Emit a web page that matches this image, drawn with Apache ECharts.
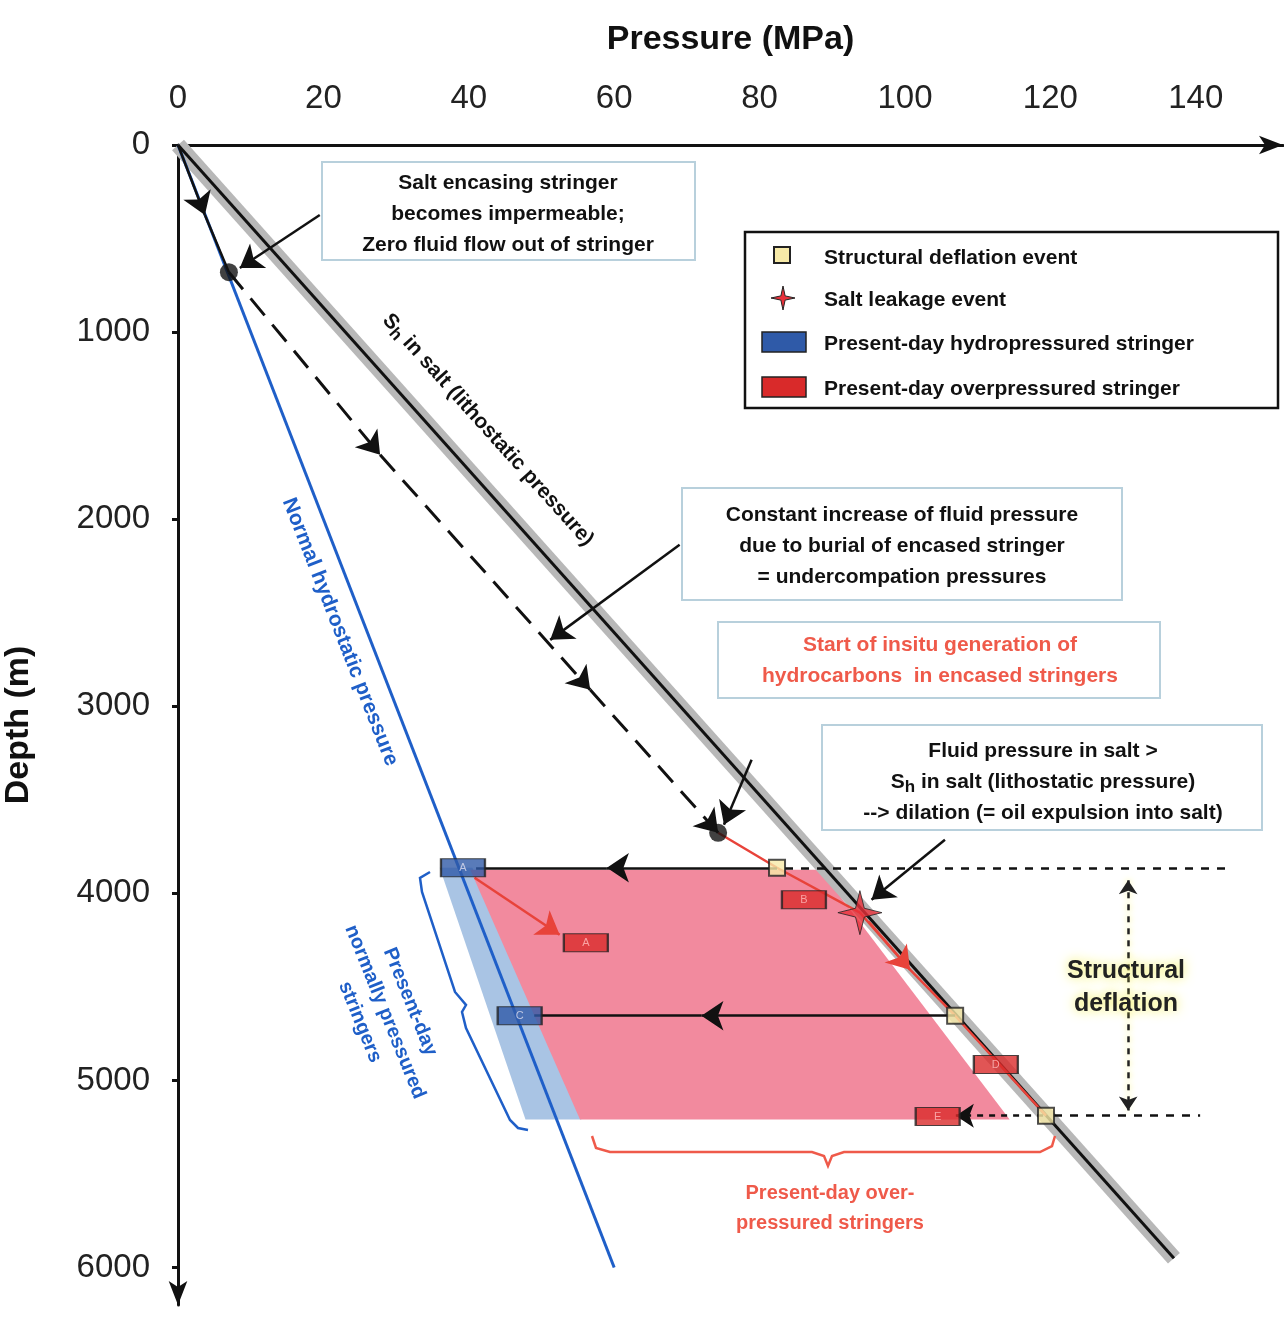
<!DOCTYPE html>
<html><head><meta charset="utf-8">
<script src="https://cdn.jsdelivr.net/npm/echarts@6/dist/echarts.min.js"></script>
<style>html,body{margin:0;padding:0;background:#fff}#c{width:1284px;height:1329px}</style>
</head><body><div id="c"></div>
<script>
const xTicks=[0,20,40,60,80,100,120,140];
const yTicks=[0,1000,2000,3000,4000,5000,6000];
const hydro=[[0,0],[60,6000]];
const litho=[[0,0],[137,5950]];
const pinkZone=[[40.2,3873],[88.3,3873],[114.4,5209],[55.3,5209]];
const blueZone=[[36,3863],[40.5,3863],[55.5,5209],[47.8,5209]];
const dashedPath=[[7,680],[27.8,1656],[56.7,2912],[74.3,3676]];
const redPath=[[74.3,3676],[82.4,3863],[93.8,4103],[100.7,4408],[106.9,4654],[119.4,5188]];
const dots=[[7,680],[74.3,3676]];
const deflationSquares=[[82.4,3863],[106.9,4654],[119.4,5188]];
const leakStar=[[93.8,4103]];
const blueStringers=[[39.2,3863,'A'],[47,4654,'C']];
const redStringers=[[86.1,4034,'B'],[56.1,4264,'A'],[112.5,4915,'D'],[104.5,5193,'E']];
const blackArrows=[[[19.5,374],[8.5,657]],[[69,2137],[51.2,2645]],[[78.9,3286],[75.1,3633]],[[105.5,3713],[95.4,4034]],
 [[0,0],[3.7,374]],[[82.4,3863],[59,3863]],[[106.9,4654],[72,4654]]];
const plainBlack=[[[59,3863],[41,3863]],[[72,4654],[49,4654]],[[3.7,374],[7,680]]];
const dashedArrows=[[[7,680],[27.8,1656]],[[27.8,1656],[56.7,2912]],[[56.7,2912],[74.3,3676]]];
const dottedLines=[[[83.5,3863],[144.7,3863]],[[120.5,5188],[140.6,5188]]];
const dottedArrow=[[[119,5188],[107,5188]]];
const redArrows=[[[40.8,3916],[52.5,4221]],[[95,4150],[100.7,4408]]];
const deflArrow=[[[130.7,3930],[130.7,5160]]];

const chart=echarts.init(document.getElementById('c'));
const F='Arial, "Liberation Sans", sans-serif';
function poly(data,color,z){return {type:'custom',z:z,silent:true,data:[0],renderItem:(p,api)=>({type:'polygon',shape:{points:data.map(d=>api.coord(d))},style:{fill:color}})};}
function boxes(data,fill,txt){return {type:'scatter',z:8,symbol:'rect',symbolSize:[44,18],data:data.map(d=>({value:[d[0],d[1]],name:d[2]})),
 itemStyle:{color:fill,borderColor:'#222',borderWidth:1.5},label:{show:true,formatter:'{b}',color:txt,fontSize:11,fontFamily:F}};}
function lineSeg(data,o){o.lineStyle.opacity=1;return Object.assign({type:'lines',coordinateSystem:'cartesian2d',z:6,data:data.map(c=>({coords:c}))},o);}
const box=(x,y,w,h,stroke)=>({type:'rect',shape:{x:x,y:y,width:w,height:h},style:{fill:'#fff',stroke:stroke||'#b8d0dc',lineWidth:2},z:1});
const txt=(x,y,t,o)=>({type:'text',x:x,y:y,z:20,style:Object.assign({text:t,font:'bold 21px '+F,fill:'#111',align:'center',verticalAlign:'top',lineHeight:31},o||{})});
function starPts(cx,cy,r,ri){const p=[];for(let i=0;i<8;i++){const a=i*Math.PI/4;const rr=i%2?ri:r;p.push([cx+rr*Math.cos(a),cy+rr*Math.sin(a)]);}return p;}
chart.setOption({
 animation:false,
 grid:{left:178,top:145,right:1,bottom:24,outerBoundsMode:'none',containLabel:false},
 xAxis:{type:'value',position:'top',min:0,max:152,interval:20,name:'Pressure (MPa)',nameLocation:'middle',nameGap:88,
  nameTextStyle:{fontSize:34,fontWeight:'bold',color:'#111',fontFamily:F},
  axisLine:{lineStyle:{color:'#111',width:3},symbol:['none','arrow'],symbolSize:[14,24]},
  axisTick:{show:false},splitLine:{show:false},
  axisLabel:{fontSize:33,color:'#222',margin:30,fontFamily:F,showMaxLabel:false,formatter:v=>xTicks.includes(v)?v:''}},
 yAxis:{type:'value',inverse:true,min:0,max:6200,interval:1000,name:'Depth (m)',nameLocation:'middle',nameGap:142,
  nameTextStyle:{fontSize:34,fontWeight:'bold',color:'#111',fontFamily:F},
  axisLine:{lineStyle:{color:'#111',width:3},symbol:['arrow','none'],symbolSize:[14,24]},
  axisTick:{show:true,length:6,inside:false,lineStyle:{width:3,color:'#111'}},splitLine:{show:false},
  axisLabel:{fontSize:33,color:'#222',margin:28,fontFamily:F,showMaxLabel:false,formatter:v=>yTicks.includes(v)?v:''}},
 series:[
  poly(blueZone,'#a9c4e4',2),
  poly(pinkZone,'#f28a9e',2),
  {type:'line',data:litho,z:3,symbol:'none',lineStyle:{color:'#b8b8b8',width:16}},
  {type:'line',data:hydro,z:4,symbol:'none',lineStyle:{color:'#1f5fc8',width:3}},
  {type:'line',data:litho,z:5,symbol:'none',lineStyle:{color:'#111',width:3}},
  {type:'line',data:redPath,z:5,symbol:'none',lineStyle:{color:'#e8433a',width:2.5}},
  lineSeg(dashedArrows,{symbol:['none','arrow'],symbolSize:22,lineStyle:{color:'#111',width:3,type:[22,12]}}),
  lineSeg(blackArrows,{symbol:['none','arrow'],symbolSize:22,lineStyle:{color:'#111',width:2.5}}),
  lineSeg(plainBlack,{symbol:'none',lineStyle:{color:'#111',width:2.5}}),
  lineSeg(dottedLines,{symbol:'none',lineStyle:{color:'#111',width:2.5,type:[8,8]}}),
  lineSeg(dottedArrow,{symbol:['none','arrow'],symbolSize:18,lineStyle:{color:'#111',width:2.5,type:[6,6]}}),
  lineSeg(redArrows,{symbol:['none','arrow'],symbolSize:22,lineStyle:{color:'#e8433a',width:2.5}}),
  lineSeg(deflArrow,{symbol:['arrow','arrow'],symbolSize:14,lineStyle:{color:'#222',width:2.5,type:[6,6],shadowColor:'#f5f06a',shadowBlur:6}}),
  {type:'scatter',z:9,data:dots,symbol:'circle',symbolSize:18,itemStyle:{color:'#111'}},
  {type:'scatter',z:9,data:deflationSquares,symbol:'rect',symbolSize:16,itemStyle:{color:'#f7eaa8',borderColor:'#222',borderWidth:2}},
  {type:'scatter',z:9,data:leakStar,symbol:'path://M0,-10 L2,-2 L10,0 L2,2 L0,10 L-2,2 L-10,0 L-2,-2 Z',symbolSize:44,itemStyle:{color:'#e8303a',borderColor:'#222',borderWidth:1}},
  boxes(blueStringers,'#2f5aa8','#dde'),
  boxes(redStringers,'#d92a2a','#fbb')
 ],
 graphic:[
  box(322,162,373,98), txt(508,168,'Salt encasing stringer\nbecomes impermeable;\nZero fluid flow out of stringer'),
  box(682,488,440,112), txt(902,500,'Constant increase of fluid pressure\ndue to burial of encased stringer\n= undercompation pressures'),
  box(718,622,442,76), txt(940,630,'Start of insitu generation of\nhydrocarbons  in encased stringers',{fill:'#ef5a4a'}),
  box(822,725,440,105),
  {type:'text',x:1043,y:736,z:20,style:{text:'Fluid pressure in salt >\n{b|S}{s|h}{b| in salt (lithostatic pressure)}\n--> dilation (= oil expulsion into salt)',
   font:'bold 21px '+F,fill:'#111',align:'center',verticalAlign:'top',lineHeight:31,rich:{b:{font:'bold 21px '+F,fill:'#111'},s:{font:'bold 17px '+F,fill:'#111',padding:[10,0,0,0]}}}},
  {type:'rect',shape:{x:745,y:232,width:533,height:176},style:{fill:'#fff',stroke:'#111',lineWidth:2.5},z:10},
  {type:'rect',shape:{x:774,y:247,width:16,height:16},style:{fill:'#f7eaa8',stroke:'#222',lineWidth:2},z:11},
  {type:'polygon',shape:{points:starPts(783,298,12,3)},style:{fill:'#e8303a',stroke:'#222',lineWidth:1},z:11},
  {type:'rect',shape:{x:762,y:332,width:44,height:20},style:{fill:'#2f5aa8',stroke:'#222',lineWidth:1.5},z:11},
  {type:'rect',shape:{x:762,y:377,width:44,height:20},style:{fill:'#d92a2a',stroke:'#222',lineWidth:1.5},z:11},
  txt(824,243,'Structural deflation event',{align:'left'}),
  txt(824,285,'Salt leakage event',{align:'left'}),
  txt(824,329,'Present-day hydropressured stringer',{align:'left'}),
  txt(824,374,'Present-day overpressured stringer',{align:'left'}),
  {type:'text',x:488,y:430,rotation:-48*Math.PI/180,z:20,style:{text:'{b|S}{s|h}{b| in salt (lithostatic pressure)}',align:'center',verticalAlign:'middle',
   rich:{b:{font:'bold 21px '+F,fill:'#111'},s:{font:'bold 17px '+F,fill:'#111',padding:[10,0,0,0]}}}},
  {type:'text',x:340,y:632,rotation:-68.6*Math.PI/180,z:20,style:{text:'Normal hydrostatic pressure',font:'bold 21px '+F,fill:'#1f5fc8',align:'center',verticalAlign:'middle'}},
  {type:'text',x:385,y:1012,rotation:-68*Math.PI/180,z:20,style:{text:'Present-day\nnormally pressured\nstringers',font:'bold 20px '+F,fill:'#1f5fc8',align:'center',verticalAlign:'middle',lineHeight:27}},
  {type:'polyline',z:20,shape:{points:[[430,872],[420,878],[422,892],[455,992],[466,1005],[462,1012],[466,1028],[510,1120],[518,1128],[528,1130]]},style:{fill:null,stroke:'#1f5fc8',lineWidth:2.5}},
  {type:'polyline',z:20,shape:{points:[[592,1136],[596,1148],[610,1152],[812,1152],[824,1156],[828,1166],[832,1156],[844,1152],[1040,1152],[1052,1146],[1055,1136]]},style:{fill:null,stroke:'#ef5a4a',lineWidth:2.5}},
  txt(830,1178,'Present-day over-\npressured stringers',{fill:'#ef5a4a',font:'bold 20px '+F,lineHeight:30}),
  txt(1126,955,'Structural\ndeflation',{font:'bold 25px '+F,fill:'#222',lineHeight:33,textShadowColor:'#f2ee50',textShadowBlur:12})
 ]
});
</script></body></html>
